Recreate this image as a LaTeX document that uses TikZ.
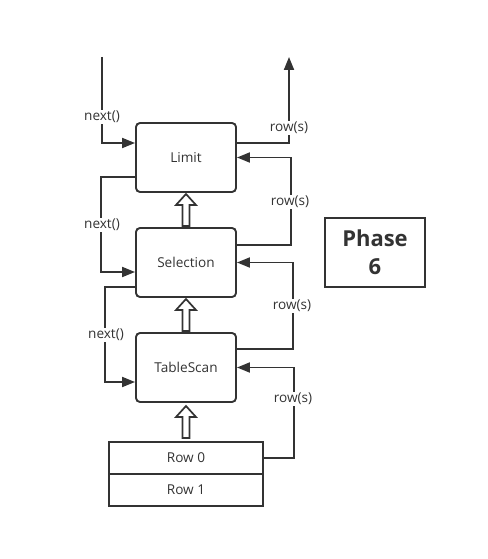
\documentclass[tikz,border=0pt]{standalone}
\usepackage{fontspec}
\setmainfont{Open Sans}
\usetikzlibrary{arrows.meta,calc}
\definecolor{ink}{HTML}{333333}
\begin{document}
\begin{tikzpicture}[x=1pt,y=-1pt,line width=1.9pt,draw=ink,
  op/.style={draw=ink,rounded corners=4pt,minimum width=100pt,minimum height=69pt,
    inner sep=0pt,font=\fontsize{13.6}{16}\selectfont,text=ink},
  rowbox/.style={draw=ink,minimum width=154pt,minimum height=32pt,inner sep=0pt,
    font=\fontsize{13.6}{16}\selectfont,text=ink},
  phasebox/.style={draw=ink,minimum width=100pt,minimum height=69pt,inner sep=0pt,
    align=center,font=\fontsize{22}{28}\selectfont\bfseries,text=ink},
  flow/.style={draw=ink,-{Triangle[length=13pt,width=10pt]}},
  lab/.style={fill=white,inner sep=1pt,font=\fontsize{13.6}{16}\selectfont,text=ink},
  blockarrow/.pic={\draw[draw=ink,fill=white,line width=1.7pt]
    (0,-16) -- (10,-5) -- (3.5,-5) -- (3.5,16) -- (-3.5,16) -- (-3.5,-5) -- (-10,-5) -- cycle;}
]
\useasboundingbox (0,0) rectangle (487,559);

\node[op] (limit) at (186,157.5) {Limit};
\node[op] (sel) at (186,262.5) {Selection};
\node[op] (scan) at (186,367.5) {TableScan};
\node[rowbox] (r0) at (186,458) {Row 0};
\node[rowbox] (r1) at (186,490) {Row 1};
\node[phasebox] (ph) at (375,252.5) {Phase\\6};

\coordinate (intop) at (102,57);
\coordinate (outtop) at (289,57);

% next() calls
\draw[flow] (intop) |- ($(limit.west)+(0,-14.5)$);
\draw[flow] ($(limit.west)+(0,19.5)$) -- ++(-34,0) |- ($(sel.west)+(0,9.5)$);
\draw[flow] ($(sel.west)+(0,24.5)$) -- ++(-30,0) |- ($(scan.west)+(0,14.5)$);

% row(s) returns
\draw[flow] ($(limit.east)+(0,-14.5)$) -| (outtop);
\draw[flow] ($(sel.east)+(0,-17.5)$) -- ++(54,0) |- (limit.east);
\draw[flow] ($(scan.east)+(0,-18.5)$) -- ++(56,0) |- (sel.east);
\draw[flow] (r0.east) -- ++(30,0) |- (scan.east);

% labels
\node[lab] (n1) at (102,117) {next()};
\node[lab] (n2) at (102,225) {next()};
\node[lab] (n3) at (106,335) {next()};
\node[lab] (o1) at (289,128) {row(s)};
\node[lab] (o2) at (290,202) {row(s)};
\node[lab] (o3) at (292,306) {row(s)};
\node[lab] (o4) at (293,399) {row(s)};

% hollow block arrows
\pic at ($(limit.south)!0.5!(sel.north)$) {blockarrow};
\pic at ($(sel.south)!0.5!(scan.north)$) {blockarrow};
\pic at ($(scan.south)!0.5!(r0.north)$) {blockarrow};
\end{tikzpicture}
\end{document}
